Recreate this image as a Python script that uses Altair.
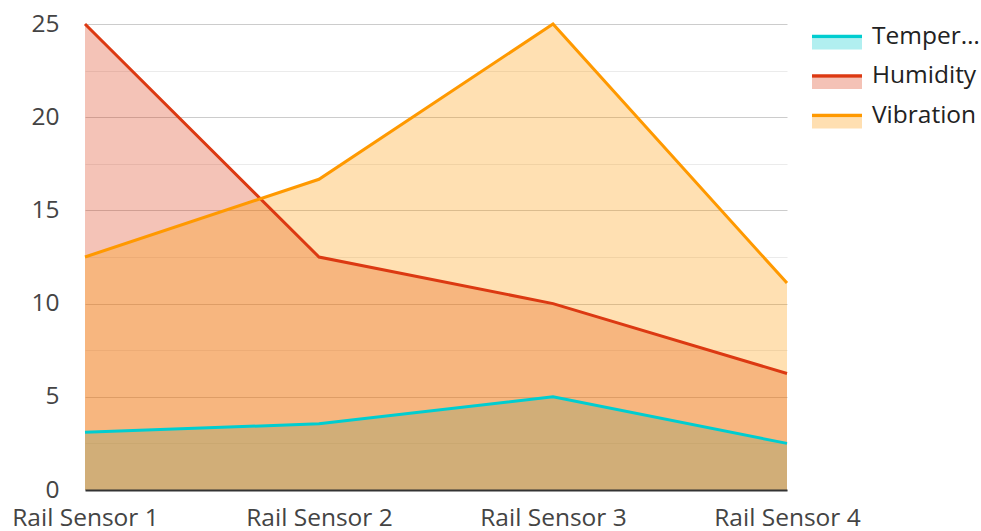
import altair as alt
import pandas as pd

sensors = ["Rail Sensor 1", "Rail Sensor 2", "Rail Sensor 3", "Rail Sensor 4"]
temperature = [3.1, 3.55, 5.0, 2.5]
humidity = [25.0, 12.5, 10.0, 6.25]
vibration = [12.5, 16.67, 25.0, 11.1]
series_names = ["Temperature", "Humidity", "Vibration"]
series_colors = ["#00cdd0", "#dc3912", "#ff9900"]
y_ticks = [0, 2.5, 5, 7.5, 10, 12.5, 15, 17.5, 20, 22.5, 25]

rows = []
for name, vals in zip(series_names, [temperature, humidity, vibration]):
    for s, v in zip(sensors, vals):
        rows.append({"sensor": s, "series": name, "value": v})
df = pd.DataFrame(rows)

FONT = "Open Sans"
FS = 24.5

x_enc = alt.X(
    "sensor:N",
    sort=sensors,
    scale=alt.Scale(type="point", padding=0),
    axis=alt.Axis(
        title=None, labelAngle=0, labelFontSize=FS, labelFont=FONT,
        labelColor="#444444", ticks=False, domainColor="#333333",
        domainWidth=2, grid=False, labelPadding=16, zindex=1,
    ),
)
y_enc = alt.Y(
    "value:Q",
    stack=None,
    scale=alt.Scale(domain=[0, 25], nice=False),
    axis=alt.Axis(
        title=None, values=y_ticks,
        labelExpr="datum.value % 5 === 0 ? datum.label : ''",
        gridColor={"condition": {"test": "datum.value % 5 === 0", "value": "#cccccc"},
                   "value": "#ebebeb"},
        domain=False, ticks=False, labelPadding=26, labelFontSize=FS,
        labelFont=FONT, labelColor="#444444",
    ),
)

common_legend = dict(
    orient="none", legendX=725, legendY=-2, title=None, labelFontSize=FS,
    labelFont=FONT, labelColor="#222222", symbolSize=625, rowPadding=4.5,
    labelOffset=33, labelLimit=108, padding=0, symbolStrokeWidth=3.5,
)

areas = alt.Chart(df).mark_area(fillOpacity=0.3, line=False).encode(
    x=x_enc,
    y=y_enc,
    color=alt.Color(
        "series:N",
        scale=alt.Scale(domain=series_names, range=series_colors),
        legend=alt.Legend(
            symbolType="M-1,0L-1,0M-1,0.16H3V1.04H-1Z", symbolOpacity=0.3,
            symbolStrokeColor="transparent", labelOpacity=0, **common_legend,
        ),
    ),
)

lines = alt.Chart(df).mark_line(strokeWidth=3).encode(
    x=x_enc,
    y=y_enc,
    color=alt.Color(
        "series:N",
        scale=alt.Scale(domain=series_names, range=series_colors),
        legend=alt.Legend(
            symbolType="M-1,0H3M-1,1.04L-1,1.04",
            symbolFillColor="transparent", **common_legend,
        ),
    ),
)

chart = alt.layer(areas, lines).resolve_scale(color="independent").resolve_legend(
    color="independent"
).properties(
    width=702, height=466,
    autosize=alt.AutoSizeParams(type="none"),
    padding={"left": 85, "top": 24, "right": 194, "bottom": 41},
).configure_view(stroke=None)

chart.save("out.html", embed_options={"renderer": "svg", "actions": False})
